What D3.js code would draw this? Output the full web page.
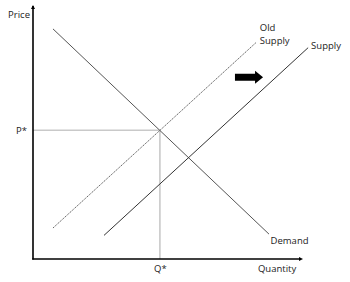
<!DOCTYPE html>
<html><head><meta charset="utf-8">
<script src="https://cdn.jsdelivr.net/npm/d3@7"></script>
<style>html,body{margin:0;padding:0;background:#fff;}svg{display:block;}text{font-family:"Open Sans",sans-serif;font-size:9.5px;fill:#222;}</style>
</head><body>
<script>
// Data in abstract units (x: quantity 0..100, y: price 0..100)
const demand = [[7.4, 90.6], [87.4, 9.8]];
const oldSupply = [[7.4, 12.2], [82.6, 85.2]];
const newSupply = [[26.3, 9.3], [101.9, 83.2]];
const equilibrium = [47.0, 50.7];
const shiftArrow = [[74.8, 71.6], [85.2, 71.6]];
const axisLabels = ["Price", "Quantity"];
const tickLabels = ["P*", "Q*"];
const curveLabels = [
  {lines: ["Old", "Supply"], at: [84.0, 89.8]},
  {lines: ["Supply"], at: [103.0, 82.6]},
  {lines: ["Demand"], at: [88.0, 5.9]}
];

const W = 350, H = 282;
const x = d3.scaleLinear().domain([0, 100]).range([33, 303]);
const y = d3.scaleLinear().domain([0, 100]).range([259, 5]);

const svg = d3.select("body").append("svg").attr("width", W).attr("height", H);
const line = d3.line().x(d => x(d[0])).y(d => y(d[1]));

// guide lines
svg.append("path").attr("d", line([[0, equilibrium[1]], equilibrium]))
  .attr("stroke", "#c9c9c9").attr("stroke-width", 1.6).attr("fill", "none");
svg.append("path").attr("d", line([equilibrium, [equilibrium[0], 0]]))
  .attr("stroke", "#c9c9c9").attr("stroke-width", 1.6).attr("fill", "none");

// curves
svg.append("path").attr("d", line(demand)).attr("stroke", "#555").attr("stroke-width", 1).attr("fill", "none");
svg.append("path").attr("d", line(oldSupply)).attr("stroke", "#555").attr("stroke-width", 0.9)
  .attr("stroke-dasharray", "1.5,0.8").attr("fill", "none");
svg.append("path").attr("d", line(newSupply)).attr("stroke", "#333").attr("stroke-width", 1).attr("fill", "none");

// axes
const axisX = d3.axisBottom(x).tickValues([equilibrium[0]]).tickFormat(() => tickLabels[1]).tickSize(0).tickPadding(6);
const gx = svg.append("g").attr("transform", `translate(0,${y(0)})`).call(axisX);
gx.select(".domain").remove();
gx.selectAll("text").style("font-family", '"Open Sans",sans-serif').style("font-size", "9.5px").attr("fill", "#222");
const axisY = d3.axisLeft(y).tickValues([equilibrium[1]]).tickFormat(() => tickLabels[0]).tickSize(0).tickPadding(6);
const gy = svg.append("g").attr("transform", `translate(${x(0)},0)`).call(axisY);
gy.select(".domain").remove();
gy.selectAll("text").style("font-family", '"Open Sans",sans-serif').style("font-size", "9.5px").attr("fill", "#222");

svg.append("line").attr("x1", x(0)).attr("x2", x(0)).attr("y1", y(0) + 0.5).attr("y2", y(100) + 1)
  .attr("stroke", "#000").attr("stroke-width", 1.6);
svg.append("line").attr("x1", x(0) - 0.8).attr("x2", x(100) - 2).attr("y1", y(0)).attr("y2", y(0))
  .attr("stroke", "#000").attr("stroke-width", 1.6);
// axis arrowheads
svg.append("path").attr("d", `M${x(0)},${y(100)} l-2,4 l4,0 z`).attr("fill", "#000");
svg.append("path").attr("d", `M${x(100)},${y(0)} l-4,-2 l0,4 z`).attr("fill", "#000");

// axis labels
svg.append("text").attr("x", x(0) - 3).attr("y", y(100) + 12.5).attr("text-anchor", "end").text(axisLabels[0]);
svg.append("text").attr("x", x(90.4)).attr("y", y(0) + 13).attr("text-anchor", "middle").text(axisLabels[1]);

// curve labels
curveLabels.forEach(c => {
  const t = svg.append("text").attr("x", x(c.at[0])).attr("y", y(c.at[1]));
  c.lines.forEach((s, i) => t.append("tspan").attr("x", x(c.at[0])).attr("dy", i ? 13 : 0).text(s));
});

// shift arrow
const ax0 = x(shiftArrow[0][0]), ax1 = x(shiftArrow[1][0]), ay = y(shiftArrow[0][1]);
svg.append("path")
  .attr("d", `M${ax0},${ay - 3.5} L${ax1 - 8},${ay - 3.5} L${ax1 - 8},${ay - 6.5} L${ax1},${ay} L${ax1 - 8},${ay + 6.5} L${ax1 - 8},${ay + 3.5} L${ax0},${ay + 3.5} Z`)
  .attr("fill", "#000");
</script>
</body></html>
